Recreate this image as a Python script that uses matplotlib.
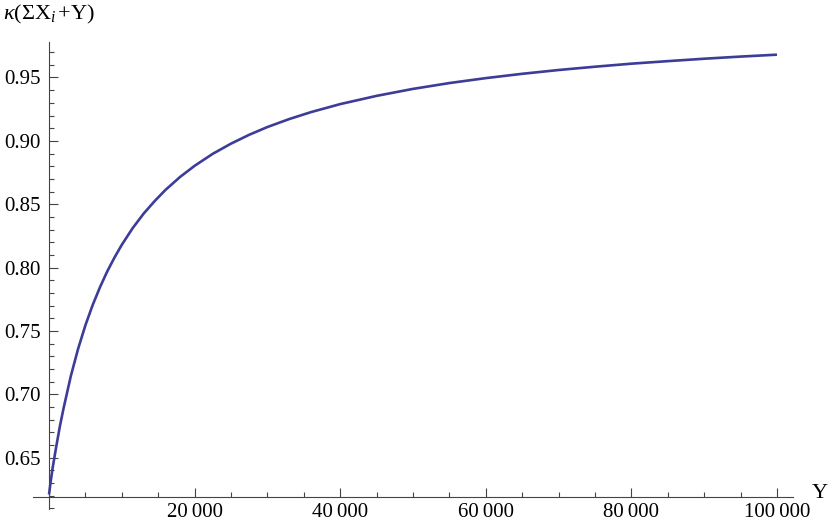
import matplotlib
matplotlib.use("Agg")
import matplotlib.pyplot as plt
from matplotlib.ticker import MultipleLocator, FixedLocator, FuncFormatter

# values
y_vals = [0, 250, 500, 1000, 1500, 2000, 3000, 4000, 5000, 6000, 7000,
          8000, 9000, 10000, 11500, 13000, 14500, 16000, 18000, 20000,
          22500, 25000, 27500, 30000, 33000, 36000, 40000, 45000, 50000,
          55000, 60000, 65000, 70000, 75000, 80000, 85000, 90000, 95000,
          100000]
kappa = [0.621, 0.632, 0.642, 0.659, 0.675, 0.689, 0.7145, 0.736, 0.7545,
         0.7705, 0.7845, 0.797, 0.808, 0.818, 0.8312, 0.8426, 0.8524,
         0.8613, 0.8715, 0.8803, 0.8898, 0.8978, 0.9048, 0.9109, 0.9172,
         0.9227, 0.9290, 0.9355, 0.9410, 0.9456, 0.9495, 0.9529, 0.9559,
         0.9585, 0.9609, 0.9629, 0.9648, 0.9665, 0.9680]

x_major = [20000, 40000, 60000, 80000, 100000]
y_major = [0.65, 0.70, 0.75, 0.80, 0.85, 0.90, 0.95]

plt.rcParams["font.family"] = ["Liberation Serif", "DejaVu Serif"]
plt.rcParams["mathtext.fontset"] = "custom"
plt.rcParams["mathtext.rm"] = "Liberation Serif"
plt.rcParams["mathtext.it"] = "Liberation Serif:italic"

W, H = 830, 528
fig = plt.figure(figsize=(W / 100, H / 100), dpi=100)

# axes box in pixel coords (left, top, right, bottom)
left, top, right, bottom = 33, 42, 793, 509
ax = fig.add_axes([left / W, 1 - bottom / H, (right - left) / W, (bottom - top) / H])

line_col = "#3d3d99"
ax.plot(y_vals, kappa, color=line_col, lw=1.9, solid_capstyle="butt",
        solid_joinstyle="round")

ax.set_xlim(-2200, 102200)
ax.set_ylim(0.6095, 0.978)

for s in ["top", "right"]:
    ax.spines[s].set_visible(False)
ax.spines["left"].set_position(("data", 0))
ax.spines["bottom"].set_position(("data", 0.619))
for s in ["left", "bottom"]:
    ax.spines[s].set_color("#444444")
    ax.spines[s].set_linewidth(0.8)

ax.xaxis.set_major_locator(FixedLocator(x_major))
ax.xaxis.set_minor_locator(MultipleLocator(5000))
ax.yaxis.set_major_locator(FixedLocator(y_major))
ax.yaxis.set_minor_locator(MultipleLocator(0.01))

ax.xaxis.set_major_formatter(FuncFormatter(lambda v, p: f"{int(v):,}".replace(",", "\u2009")))
ax.yaxis.set_major_formatter(FuncFormatter(lambda v, p: f"{v:.2f}"))

ax.tick_params(axis="both", which="both", direction="in", colors="#444444",
               labelcolor="black", labelsize=15)
ax.tick_params(which="major", length=6.5, width=0.8)
ax.tick_params(which="minor", length=3.8, width=0.8)
ax.tick_params(axis="x", pad=4)
ax.tick_params(axis="y", pad=6)

fig.text(812 / W, 1 - 493 / H, "Y", fontsize=16, ha="left", va="center")
fig.text(3 / W, 1 - 14 / H, r"$\kappa(\Sigma\mathrm{X}_i\,\mathrm{+Y})$",
         fontsize=16, ha="left", va="center")

fig.savefig("out.png", dpi=100)
